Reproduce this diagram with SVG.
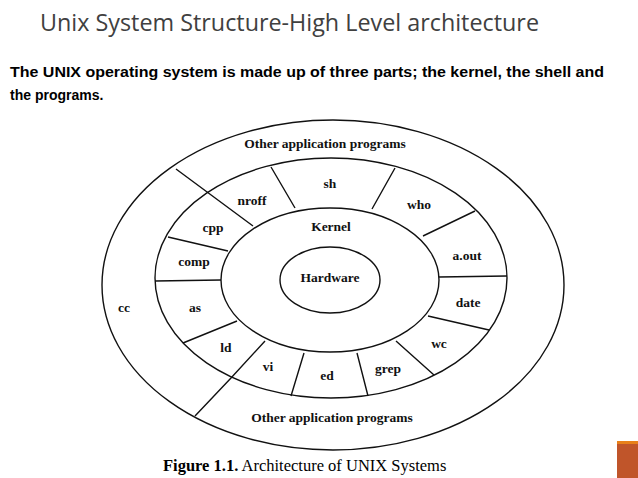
<svg xmlns="http://www.w3.org/2000/svg" width="638" height="478" viewBox="0 0 638 478">
<style>
.l{fill:none;stroke:#111;stroke-width:1.4}
.t{font-family:"Liberation Serif",serif;font-size:13.5px;font-weight:bold;fill:#111;text-anchor:middle}
</style>
<rect width="638" height="478" fill="#fff"/>
<text x="40" y="31" font-family="Open Sans,Liberation Sans,sans-serif" font-size="23" fill="#404040" textLength="499" lengthAdjust="spacingAndGlyphs">Unix System Structure-High Level architecture</text>
<text font-family="Liberation Sans,sans-serif" font-size="14" font-weight="bold" fill="#000"><tspan x="10" y="77" textLength="594" lengthAdjust="spacingAndGlyphs">The UNIX operating system is made up of three parts; the kernel, the shell and</tspan><tspan x="10" y="100">the programs.</tspan></text>
<g id="outer"><ellipse class="l" cx="333" cy="285" rx="231" ry="165"/></g>
<g id="programs"><ellipse class="l" cx="331" cy="278" rx="176" ry="120"/></g>
<g id="kernel"><ellipse class="l" cx="330" cy="280" rx="109" ry="72"/><text class="t" x="331" y="231">Kernel</text></g>
<g id="hardware"><ellipse class="l" cx="330" cy="280" rx="50" ry="33"/><text class="t" x="330" y="282">Hardware</text></g>
<g id="connectors">
<path class="l" d="M271 167L295 208M395 168L372 209M475 211L423 236M507 276L439 277M489 330L428 316M434 375L396 341M368 396L357 353M291 396L304 353M231 378L265 341M183 343L237 321M155 281L221 280M168 237L228 251M176 169L253 226M195 416L231 378"/>
</g>
<g id="labels">
<text class="t" x="325" y="148">Other application programs</text>
<text class="t" x="332" y="422">Other application programs</text>
<text class="t" x="330" y="188">sh</text>
<text class="t" x="252" y="205">nroff</text>
<text class="t" x="419" y="209">who</text>
<text class="t" x="213" y="232">cpp</text>
<text class="t" x="194" y="266">comp</text>
<text class="t" x="467" y="260">a.out</text>
<text class="t" x="124" y="312">cc</text>
<text class="t" x="195" y="312">as</text>
<text class="t" x="468" y="307">date</text>
<text class="t" x="439" y="348">wc</text>
<text class="t" x="226" y="352">ld</text>
<text class="t" x="268" y="371">vi</text>
<text class="t" x="327" y="380">ed</text>
<text class="t" x="388" y="373">grep</text>
</g>
<text x="163" y="471" font-family="Liberation Serif,serif" font-size="16.5" fill="#000"><tspan font-weight="bold">Figure 1.1.</tspan>  Architecture of UNIX Systems</text>
<rect x="617" y="441" width="21" height="37" fill="#c0552a"/>
<rect x="617" y="441" width="21" height="3" fill="#e8801a"/>
</svg>
